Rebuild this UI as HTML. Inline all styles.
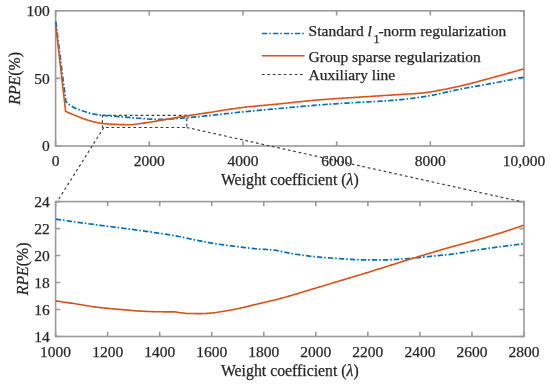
<!DOCTYPE html>
<html><head><meta charset="utf-8"><title>RPE vs weight coefficient</title>
<style>html,body{margin:0;padding:0;background:#fff;}svg{display:block;}</style>
</head><body>
<svg width="550" height="384" viewBox="0 0 550 384">
<rect width="550" height="384" fill="#fff"/>
<g fill="none" stroke="#9a9a9a" stroke-width="1.6">
<rect x="55.6" y="10.8" width="468.40" height="135.20"/>
<rect x="55.6" y="201.6" width="468.40" height="134.90"/>
<path d="M55.60 146.00 V141.30 M55.60 10.80 V15.50 M149.28 146.00 V141.30 M149.28 10.80 V15.50 M242.96 146.00 V141.30 M242.96 10.80 V15.50 M336.64 146.00 V141.30 M336.64 10.80 V15.50 M430.32 146.00 V141.30 M430.32 10.80 V15.50 M524.00 146.00 V141.30 M524.00 10.80 V15.50 M55.60 146.00 H60.30 M524.00 146.00 H519.30 M55.60 78.40 H60.30 M524.00 78.40 H519.30 M55.60 10.80 H60.30 M524.00 10.80 H519.30 M55.60 336.50 V331.80 M55.60 201.60 V206.30 M107.64 336.50 V331.80 M107.64 201.60 V206.30 M159.69 336.50 V331.80 M159.69 201.60 V206.30 M211.73 336.50 V331.80 M211.73 201.60 V206.30 M263.78 336.50 V331.80 M263.78 201.60 V206.30 M315.82 336.50 V331.80 M315.82 201.60 V206.30 M367.87 336.50 V331.80 M367.87 201.60 V206.30 M419.91 336.50 V331.80 M419.91 201.60 V206.30 M471.96 336.50 V331.80 M471.96 201.60 V206.30 M524.00 336.50 V331.80 M524.00 201.60 V206.30 M55.60 336.50 H60.30 M524.00 336.50 H519.30 M55.60 309.52 H60.30 M524.00 309.52 H519.30 M55.60 282.54 H60.30 M524.00 282.54 H519.30 M55.60 255.56 H60.30 M524.00 255.56 H519.30 M55.60 228.58 H60.30 M524.00 228.58 H519.30 M55.60 201.60 H60.30 M524.00 201.60 H519.30 "/>
</g>
<g fill="none" stroke-linejoin="round">
<g stroke="#3a3a3a" stroke-width="1.15" stroke-dasharray="2.75 2.7">
<rect x="102.44" y="115.4" width="84.31" height="12.10"/>
<path d="M103.8 127.5 L57.3 201.4 M186.75 127.5 L521 201.6"/>
</g>
<path d="M55.80 21.70 L65.80 101.40 L67.30 102.92 L68.80 104.28 L70.30 105.40 L71.80 106.35 L73.30 107.19 L74.80 107.93 L76.30 108.61 L77.80 109.23 L79.30 109.80 L80.80 110.32 L82.30 110.81 L83.80 111.30 L85.30 111.80 L86.80 112.30 L88.30 112.77 L89.80 113.19 L91.30 113.54 L92.80 113.84 L94.30 114.13 L95.80 114.38 L97.30 114.62 L98.80 114.84 L100.30 115.04 L101.80 115.21 L103.30 115.37 L104.80 115.50 L106.30 115.62 L107.80 115.73 L109.30 115.85 L110.80 115.97 L112.30 116.08 L113.80 116.19 L115.30 116.30 L116.80 116.42 L118.30 116.53 L119.80 116.65 L121.30 116.76 L122.80 116.89 L124.30 117.02 L125.80 117.15 L127.30 117.31 L128.80 117.46 L130.30 117.62 L131.80 117.78 L133.30 117.92 L134.80 118.04 L136.30 118.14 L137.80 118.23 L139.30 118.32 L140.80 118.40 L142.30 118.49 L143.80 118.60 L145.30 118.73 L146.80 118.87 L148.30 119.00 L149.80 119.11 L151.30 119.18 L152.80 119.22 L154.30 119.27 L155.80 119.31 L157.30 119.34 L158.80 119.36 L160.30 119.38 L161.80 119.38 L163.30 119.37 L164.80 119.32 L166.30 119.25 L167.80 119.17 L169.30 119.08 L170.80 118.99 L172.30 118.91 L173.80 118.81 L175.30 118.71 L176.80 118.61 L178.30 118.49 L179.80 118.37 L181.30 118.25 L182.80 118.12 L184.30 117.99 L185.80 117.86 L187.30 117.73 L188.80 117.60 L190.30 117.46 L191.80 117.32 L193.30 117.18 L194.80 117.04 L196.30 116.89 L197.80 116.74 L199.30 116.59 L200.80 116.43 L202.30 116.28 L203.80 116.12 L205.30 115.96 L206.80 115.80 L208.30 115.63 L209.80 115.47 L211.30 115.31 L212.80 115.14 L214.30 114.97 L215.80 114.81 L217.30 114.64 L218.80 114.47 L220.30 114.31 L221.80 114.14 L223.30 113.97 L224.80 113.81 L226.30 113.64 L227.80 113.48 L229.30 113.32 L230.80 113.15 L232.30 112.99 L233.80 112.84 L235.30 112.68 L236.80 112.52 L238.30 112.37 L239.80 112.22 L241.30 112.07 L242.80 111.92 L244.30 111.77 L245.80 111.63 L247.30 111.48 L248.80 111.33 L250.30 111.19 L251.80 111.04 L253.30 110.90 L254.80 110.75 L256.30 110.61 L257.80 110.47 L259.30 110.32 L260.80 110.18 L262.30 110.04 L263.80 109.90 L265.30 109.76 L266.80 109.62 L268.30 109.48 L269.80 109.34 L271.30 109.20 L272.80 109.06 L274.30 108.92 L275.80 108.78 L277.30 108.65 L278.80 108.51 L280.30 108.37 L281.80 108.24 L283.30 108.10 L284.80 107.96 L286.30 107.82 L287.80 107.68 L289.30 107.55 L290.80 107.41 L292.30 107.27 L293.80 107.13 L295.30 106.99 L296.80 106.86 L298.30 106.72 L299.80 106.59 L301.30 106.45 L302.80 106.32 L304.30 106.19 L305.80 106.06 L307.30 105.93 L308.80 105.80 L310.30 105.67 L311.80 105.55 L313.30 105.42 L314.80 105.30 L316.30 105.18 L317.80 105.07 L319.30 104.95 L320.80 104.84 L322.30 104.73 L323.80 104.62 L325.30 104.51 L326.80 104.41 L328.30 104.30 L329.80 104.20 L331.30 104.10 L332.80 104.00 L334.30 103.90 L335.80 103.80 L337.30 103.70 L338.80 103.60 L340.30 103.51 L341.80 103.41 L343.30 103.32 L344.80 103.22 L346.30 103.13 L347.80 103.04 L349.30 102.95 L350.80 102.85 L352.30 102.76 L353.80 102.67 L355.30 102.58 L356.80 102.49 L358.30 102.41 L359.80 102.32 L361.30 102.24 L362.80 102.16 L364.30 102.08 L365.80 102.00 L367.30 101.92 L368.80 101.84 L370.30 101.76 L371.80 101.68 L373.30 101.60 L374.80 101.52 L376.30 101.43 L377.80 101.34 L379.30 101.24 L380.80 101.15 L382.30 101.05 L383.80 100.95 L385.30 100.85 L386.80 100.75 L388.30 100.64 L389.80 100.54 L391.30 100.42 L392.80 100.31 L394.30 100.19 L395.80 100.07 L397.30 99.94 L398.80 99.81 L400.30 99.67 L401.80 99.53 L403.30 99.37 L404.80 99.21 L406.30 99.04 L407.80 98.87 L409.30 98.69 L410.80 98.50 L412.30 98.31 L413.80 98.11 L415.30 97.91 L416.80 97.71 L418.30 97.50 L419.80 97.29 L421.30 97.07 L422.80 96.84 L424.30 96.61 L425.80 96.37 L427.30 96.12 L428.80 95.87 L430.30 95.60 L431.80 95.33 L433.30 95.06 L434.80 94.77 L436.30 94.46 L437.80 94.15 L439.30 93.82 L440.80 93.48 L442.30 93.14 L443.80 92.79 L445.30 92.45 L446.80 92.11 L448.30 91.78 L449.80 91.44 L451.30 91.11 L452.80 90.77 L454.30 90.43 L455.80 90.09 L457.30 89.77 L458.80 89.45 L460.30 89.14 L461.80 88.84 L463.30 88.55 L464.80 88.26 L466.30 87.98 L467.80 87.70 L469.30 87.42 L470.80 87.15 L472.30 86.88 L473.80 86.62 L475.30 86.35 L476.80 86.09 L478.30 85.83 L479.80 85.56 L481.30 85.30 L482.80 85.04 L484.30 84.77 L485.80 84.50 L487.30 84.23 L488.80 83.96 L490.30 83.68 L491.80 83.40 L493.30 83.12 L494.80 82.83 L496.30 82.54 L497.80 82.26 L499.30 81.97 L500.80 81.68 L502.30 81.39 L503.80 81.10 L505.30 80.81 L506.80 80.51 L508.30 80.22 L509.80 79.92 L511.30 79.63 L512.80 79.33 L514.30 79.03 L515.80 78.73 L517.30 78.43 L518.80 78.13 L520.30 77.83 L521.80 77.53 L523.30 77.22 L523.90 77.10" stroke="#0072BD" stroke-width="1.7" stroke-dasharray="5.4 1.9 1.6 2.1"/>
<path d="M55.80 25.60 L65.60 111.30 L67.10 111.99 L68.60 112.67 L70.10 113.34 L71.60 113.99 L73.10 114.62 L74.60 115.24 L76.10 115.84 L77.60 116.43 L79.10 117.01 L80.60 117.57 L82.10 118.13 L83.60 118.66 L85.10 119.17 L86.60 119.67 L88.10 120.15 L89.60 120.62 L91.10 121.07 L92.60 121.50 L94.10 121.89 L95.60 122.23 L97.10 122.56 L98.60 122.87 L100.10 123.14 L101.60 123.37 L103.10 123.55 L104.60 123.69 L106.10 123.80 L107.60 123.91 L109.10 124.03 L110.60 124.14 L112.10 124.24 L113.60 124.34 L115.10 124.42 L116.60 124.49 L118.10 124.54 L119.60 124.58 L121.10 124.61 L122.60 124.64 L124.10 124.66 L125.60 124.68 L127.10 124.70 L128.60 124.72 L130.10 124.73 L131.60 124.69 L133.10 124.58 L134.60 124.40 L136.10 124.19 L137.60 123.97 L139.10 123.77 L140.60 123.57 L142.10 123.36 L143.60 123.13 L145.10 122.89 L146.60 122.66 L148.10 122.42 L149.60 122.18 L151.10 121.93 L152.60 121.68 L154.10 121.42 L155.60 121.17 L157.10 120.91 L158.60 120.65 L160.10 120.38 L161.60 120.12 L163.10 119.86 L164.60 119.60 L166.10 119.35 L167.60 119.10 L169.10 118.84 L170.60 118.59 L172.10 118.34 L173.60 118.09 L175.10 117.84 L176.60 117.59 L178.10 117.34 L179.60 117.09 L181.10 116.84 L182.60 116.59 L184.10 116.35 L185.60 116.11 L187.10 115.87 L188.60 115.63 L190.10 115.40 L191.60 115.16 L193.10 114.93 L194.60 114.70 L196.10 114.47 L197.60 114.24 L199.10 114.01 L200.60 113.78 L202.10 113.55 L203.60 113.33 L205.10 113.10 L206.60 112.87 L208.10 112.65 L209.60 112.42 L211.10 112.19 L212.60 111.97 L214.10 111.74 L215.60 111.51 L217.10 111.28 L218.60 111.04 L220.10 110.80 L221.60 110.56 L223.10 110.31 L224.60 110.07 L226.10 109.83 L227.60 109.59 L229.10 109.35 L230.60 109.12 L232.10 108.89 L233.60 108.67 L235.10 108.45 L236.60 108.24 L238.10 108.04 L239.60 107.85 L241.10 107.67 L242.60 107.49 L244.10 107.32 L245.60 107.15 L247.10 106.98 L248.60 106.82 L250.10 106.66 L251.60 106.51 L253.10 106.36 L254.60 106.21 L256.10 106.06 L257.60 105.92 L259.10 105.77 L260.60 105.63 L262.10 105.49 L263.60 105.35 L265.10 105.21 L266.60 105.07 L268.10 104.93 L269.60 104.79 L271.10 104.66 L272.60 104.51 L274.10 104.37 L275.60 104.23 L277.10 104.09 L278.60 103.94 L280.10 103.79 L281.60 103.64 L283.10 103.49 L284.60 103.33 L286.10 103.18 L287.60 103.02 L289.10 102.86 L290.60 102.70 L292.10 102.54 L293.60 102.38 L295.10 102.22 L296.60 102.06 L298.10 101.90 L299.60 101.75 L301.10 101.59 L302.60 101.43 L304.10 101.28 L305.60 101.13 L307.10 100.98 L308.60 100.83 L310.10 100.68 L311.60 100.54 L313.10 100.40 L314.60 100.26 L316.10 100.13 L317.60 100.00 L319.10 99.87 L320.60 99.75 L322.10 99.63 L323.60 99.52 L325.10 99.40 L326.60 99.29 L328.10 99.18 L329.60 99.07 L331.10 98.97 L332.60 98.86 L334.10 98.76 L335.60 98.66 L337.10 98.56 L338.60 98.46 L340.10 98.36 L341.60 98.27 L343.10 98.17 L344.60 98.07 L346.10 97.98 L347.60 97.88 L349.10 97.78 L350.60 97.69 L352.10 97.59 L353.60 97.49 L355.10 97.39 L356.60 97.29 L358.10 97.20 L359.60 97.10 L361.10 97.00 L362.60 96.91 L364.10 96.81 L365.60 96.72 L367.10 96.62 L368.60 96.53 L370.10 96.43 L371.60 96.34 L373.10 96.24 L374.60 96.15 L376.10 96.05 L377.60 95.95 L379.10 95.86 L380.60 95.76 L382.10 95.66 L383.60 95.57 L385.10 95.47 L386.60 95.37 L388.10 95.27 L389.60 95.18 L391.10 95.08 L392.60 94.98 L394.10 94.88 L395.60 94.78 L397.10 94.69 L398.60 94.59 L400.10 94.49 L401.60 94.40 L403.10 94.31 L404.60 94.22 L406.10 94.14 L407.60 94.05 L409.10 93.97 L410.60 93.88 L412.10 93.79 L413.60 93.70 L415.10 93.60 L416.60 93.49 L418.10 93.37 L419.60 93.25 L421.10 93.11 L422.60 92.95 L424.10 92.77 L425.60 92.59 L427.10 92.39 L428.60 92.17 L430.10 91.94 L431.60 91.70 L433.10 91.45 L434.60 91.19 L436.10 90.93 L437.60 90.65 L439.10 90.37 L440.60 90.08 L442.10 89.79 L443.60 89.50 L445.10 89.21 L446.60 88.91 L448.10 88.62 L449.60 88.33 L451.10 88.02 L452.60 87.72 L454.10 87.40 L455.60 87.08 L457.10 86.75 L458.60 86.42 L460.10 86.08 L461.60 85.73 L463.10 85.37 L464.60 85.01 L466.10 84.64 L467.60 84.26 L469.10 83.88 L470.60 83.50 L472.10 83.11 L473.60 82.72 L475.10 82.32 L476.60 81.92 L478.10 81.52 L479.60 81.12 L481.10 80.71 L482.60 80.30 L484.10 79.89 L485.60 79.49 L487.10 79.08 L488.60 78.67 L490.10 78.26 L491.60 77.85 L493.10 77.45 L494.60 77.04 L496.10 76.63 L497.60 76.22 L499.10 75.81 L500.60 75.40 L502.10 74.98 L503.60 74.57 L505.10 74.15 L506.60 73.73 L508.10 73.31 L509.60 72.89 L511.10 72.46 L512.60 72.04 L514.10 71.61 L515.60 71.19 L517.10 70.76 L518.60 70.33 L520.10 69.90 L521.60 69.47 L523.10 69.03 L523.90 68.80" stroke="#D95319" stroke-width="1.6"/>
<path d="M55.80 219.20 L57.30 219.42 L58.80 219.64 L60.30 219.85 L61.80 220.07 L63.30 220.28 L64.80 220.50 L66.30 220.71 L67.80 220.92 L69.30 221.13 L70.80 221.34 L72.30 221.55 L73.80 221.76 L75.30 221.97 L76.80 222.18 L78.30 222.39 L79.80 222.59 L81.30 222.80 L82.80 223.00 L84.30 223.21 L85.80 223.41 L87.30 223.61 L88.80 223.81 L90.30 224.01 L91.80 224.20 L93.30 224.40 L94.80 224.59 L96.30 224.79 L97.80 224.98 L99.30 225.17 L100.80 225.37 L102.30 225.56 L103.80 225.75 L105.30 225.94 L106.80 226.14 L108.30 226.33 L109.80 226.52 L111.30 226.72 L112.80 226.91 L114.30 227.11 L115.80 227.31 L117.30 227.50 L118.80 227.70 L120.30 227.89 L121.80 228.09 L123.30 228.28 L124.80 228.48 L126.30 228.67 L127.80 228.87 L129.30 229.07 L130.80 229.26 L132.30 229.46 L133.80 229.66 L135.30 229.86 L136.80 230.06 L138.30 230.27 L139.80 230.47 L141.30 230.68 L142.80 230.89 L144.30 231.10 L145.80 231.31 L147.30 231.53 L148.80 231.74 L150.30 231.96 L151.80 232.17 L153.30 232.39 L154.80 232.60 L156.30 232.82 L157.80 233.04 L159.30 233.26 L160.80 233.49 L162.30 233.71 L163.80 233.94 L165.30 234.17 L166.80 234.41 L168.30 234.65 L169.80 234.90 L171.30 235.15 L172.80 235.40 L174.30 235.66 L175.80 235.93 L177.30 236.20 L178.80 236.49 L180.30 236.79 L181.80 237.11 L183.30 237.44 L184.80 237.77 L186.30 238.11 L187.80 238.45 L189.30 238.78 L190.80 239.10 L192.30 239.40 L193.80 239.70 L195.30 240.00 L196.80 240.30 L198.30 240.60 L199.80 240.90 L201.30 241.19 L202.80 241.48 L204.30 241.77 L205.80 242.05 L207.30 242.33 L208.80 242.59 L210.30 242.86 L211.80 243.11 L213.30 243.35 L214.80 243.59 L216.30 243.82 L217.80 244.04 L219.30 244.26 L220.80 244.47 L222.30 244.68 L223.80 244.89 L225.30 245.09 L226.80 245.29 L228.30 245.48 L229.80 245.68 L231.30 245.87 L232.80 246.06 L234.30 246.25 L235.80 246.44 L237.30 246.63 L238.80 246.82 L240.30 247.01 L241.80 247.21 L243.30 247.40 L244.80 247.58 L246.30 247.77 L247.80 247.94 L249.30 248.12 L250.80 248.28 L252.30 248.44 L253.80 248.59 L255.30 248.73 L256.80 248.85 L258.30 248.96 L259.80 249.06 L261.30 249.15 L262.80 249.24 L264.30 249.33 L265.80 249.42 L267.30 249.51 L268.80 249.62 L270.30 249.73 L271.80 249.86 L273.30 250.01 L274.80 250.19 L276.30 250.44 L277.80 250.74 L279.30 251.06 L280.80 251.36 L282.30 251.65 L283.80 251.96 L285.30 252.27 L286.80 252.57 L288.30 252.88 L289.80 253.18 L291.30 253.46 L292.80 253.73 L294.30 253.99 L295.80 254.23 L297.30 254.48 L298.80 254.71 L300.30 254.94 L301.80 255.16 L303.30 255.37 L304.80 255.56 L306.30 255.75 L307.80 255.93 L309.30 256.10 L310.80 256.26 L312.30 256.42 L313.80 256.58 L315.30 256.73 L316.80 256.87 L318.30 257.02 L319.80 257.15 L321.30 257.29 L322.80 257.42 L324.30 257.54 L325.80 257.67 L327.30 257.79 L328.80 257.91 L330.30 258.02 L331.80 258.14 L333.30 258.25 L334.80 258.35 L336.30 258.46 L337.80 258.56 L339.30 258.66 L340.80 258.75 L342.30 258.85 L343.80 258.93 L345.30 259.02 L346.80 259.10 L348.30 259.19 L349.80 259.29 L351.30 259.38 L352.80 259.47 L354.30 259.55 L355.80 259.63 L357.30 259.69 L358.80 259.74 L360.30 259.78 L361.80 259.80 L363.30 259.80 L364.80 259.80 L366.30 259.80 L367.80 259.80 L369.30 259.80 L370.80 259.80 L372.30 259.80 L373.80 259.80 L375.30 259.80 L376.80 259.80 L378.30 259.80 L379.80 259.80 L381.30 259.80 L382.80 259.80 L384.30 259.80 L385.80 259.80 L387.30 259.78 L388.80 259.74 L390.30 259.70 L391.80 259.63 L393.30 259.56 L394.80 259.48 L396.30 259.39 L397.80 259.29 L399.30 259.19 L400.80 259.09 L402.30 258.98 L403.80 258.88 L405.30 258.78 L406.80 258.67 L408.30 258.54 L409.80 258.40 L411.30 258.26 L412.80 258.11 L414.30 257.97 L415.80 257.83 L417.30 257.69 L418.80 257.54 L420.30 257.39 L421.80 257.25 L423.30 257.10 L424.80 256.94 L426.30 256.79 L427.80 256.64 L429.30 256.49 L430.80 256.33 L432.30 256.18 L433.80 256.03 L435.30 255.87 L436.80 255.72 L438.30 255.57 L439.80 255.42 L441.30 255.27 L442.80 255.13 L444.30 254.99 L445.80 254.85 L447.30 254.70 L448.80 254.54 L450.30 254.36 L451.80 254.18 L453.30 253.97 L454.80 253.76 L456.30 253.54 L457.80 253.30 L459.30 253.06 L460.80 252.81 L462.30 252.55 L463.80 252.29 L465.30 252.03 L466.80 251.76 L468.30 251.50 L469.80 251.23 L471.30 250.97 L472.80 250.70 L474.30 250.45 L475.80 250.20 L477.30 249.95 L478.80 249.72 L480.30 249.49 L481.80 249.27 L483.30 249.05 L484.80 248.84 L486.30 248.62 L487.80 248.41 L489.30 248.20 L490.80 247.99 L492.30 247.78 L493.80 247.58 L495.30 247.37 L496.80 247.17 L498.30 246.96 L499.80 246.76 L501.30 246.57 L502.80 246.37 L504.30 246.17 L505.80 245.98 L507.30 245.79 L508.80 245.60 L510.30 245.41 L511.80 245.22 L513.30 245.04 L514.80 244.86 L516.30 244.68 L517.80 244.50 L519.30 244.33 L520.80 244.15 L522.30 243.98 L523.90 243.80" stroke="#0072BD" stroke-width="1.7" stroke-dasharray="5.4 1.9 1.6 2.1"/>
<path d="M55.80 300.90 L57.30 301.12 L58.80 301.33 L60.30 301.55 L61.80 301.77 L63.30 301.99 L64.80 302.21 L66.30 302.43 L67.80 302.65 L69.30 302.87 L70.80 303.10 L72.30 303.32 L73.80 303.55 L75.30 303.77 L76.80 304.00 L78.30 304.23 L79.80 304.47 L81.30 304.72 L82.80 304.97 L84.30 305.22 L85.80 305.47 L87.30 305.72 L88.80 305.97 L90.30 306.22 L91.80 306.45 L93.30 306.68 L94.80 306.90 L96.30 307.11 L97.80 307.30 L99.30 307.48 L100.80 307.65 L102.30 307.82 L103.80 307.98 L105.30 308.13 L106.80 308.28 L108.30 308.42 L109.80 308.56 L111.30 308.70 L112.80 308.83 L114.30 308.96 L115.80 309.09 L117.30 309.22 L118.80 309.35 L120.30 309.48 L121.80 309.61 L123.30 309.75 L124.80 309.88 L126.30 310.02 L127.80 310.15 L129.30 310.29 L130.80 310.42 L132.30 310.55 L133.80 310.67 L135.30 310.79 L136.80 310.89 L138.30 310.99 L139.80 311.09 L141.30 311.17 L142.80 311.24 L144.30 311.31 L145.80 311.37 L147.30 311.44 L148.80 311.50 L150.30 311.55 L151.80 311.61 L153.30 311.66 L154.80 311.70 L156.30 311.74 L157.80 311.77 L159.30 311.79 L160.80 311.81 L162.30 311.82 L163.80 311.83 L165.30 311.83 L166.80 311.84 L168.30 311.85 L169.80 311.85 L171.30 311.86 L172.80 311.88 L174.30 311.90 L175.80 312.00 L177.30 312.25 L178.80 312.49 L180.30 312.67 L181.80 312.86 L183.30 313.05 L184.80 313.22 L186.30 313.36 L187.80 313.46 L189.30 313.50 L190.80 313.53 L192.30 313.55 L193.80 313.56 L195.30 313.58 L196.80 313.59 L198.30 313.60 L199.80 313.60 L201.30 313.60 L202.80 313.57 L204.30 313.52 L205.80 313.44 L207.30 313.35 L208.80 313.25 L210.30 313.14 L211.80 313.03 L213.30 312.88 L214.80 312.69 L216.30 312.48 L217.80 312.26 L219.30 312.02 L220.80 311.77 L222.30 311.53 L223.80 311.29 L225.30 311.04 L226.80 310.78 L228.30 310.52 L229.80 310.24 L231.30 309.96 L232.80 309.67 L234.30 309.37 L235.80 309.07 L237.30 308.76 L238.80 308.45 L240.30 308.14 L241.80 307.81 L243.30 307.47 L244.80 307.12 L246.30 306.76 L247.80 306.39 L249.30 306.02 L250.80 305.65 L252.30 305.27 L253.80 304.90 L255.30 304.53 L256.80 304.17 L258.30 303.81 L259.80 303.46 L261.30 303.12 L262.80 302.77 L264.30 302.43 L265.80 302.09 L267.30 301.74 L268.80 301.40 L270.30 301.05 L271.80 300.69 L273.30 300.32 L274.80 299.95 L276.30 299.57 L277.80 299.18 L279.30 298.78 L280.80 298.38 L282.30 297.98 L283.80 297.57 L285.30 297.15 L286.80 296.73 L288.30 296.30 L289.80 295.88 L291.30 295.45 L292.80 295.02 L294.30 294.58 L295.80 294.14 L297.30 293.69 L298.80 293.23 L300.30 292.77 L301.80 292.31 L303.30 291.85 L304.80 291.38 L306.30 290.93 L307.80 290.47 L309.30 290.02 L310.80 289.56 L312.30 289.11 L313.80 288.66 L315.30 288.21 L316.80 287.76 L318.30 287.31 L319.80 286.86 L321.30 286.41 L322.80 285.96 L324.30 285.51 L325.80 285.06 L327.30 284.61 L328.80 284.16 L330.30 283.71 L331.80 283.26 L333.30 282.81 L334.80 282.36 L336.30 281.91 L337.80 281.46 L339.30 281.01 L340.80 280.56 L342.30 280.11 L343.80 279.66 L345.30 279.21 L346.80 278.77 L348.30 278.32 L349.80 277.87 L351.30 277.42 L352.80 276.97 L354.30 276.52 L355.80 276.07 L357.30 275.62 L358.80 275.16 L360.30 274.71 L361.80 274.25 L363.30 273.79 L364.80 273.33 L366.30 272.87 L367.80 272.40 L369.30 271.94 L370.80 271.47 L372.30 271.00 L373.80 270.54 L375.30 270.07 L376.80 269.60 L378.30 269.13 L379.80 268.66 L381.30 268.19 L382.80 267.71 L384.30 267.24 L385.80 266.77 L387.30 266.30 L388.80 265.83 L390.30 265.35 L391.80 264.88 L393.30 264.41 L394.80 263.94 L396.30 263.47 L397.80 263.00 L399.30 262.53 L400.80 262.07 L402.30 261.60 L403.80 261.13 L405.30 260.67 L406.80 260.20 L408.30 259.74 L409.80 259.28 L411.30 258.82 L412.80 258.36 L414.30 257.91 L415.80 257.45 L417.30 257.00 L418.80 256.54 L420.30 256.09 L421.80 255.63 L423.30 255.18 L424.80 254.73 L426.30 254.27 L427.80 253.82 L429.30 253.37 L430.80 252.92 L432.30 252.47 L433.80 252.02 L435.30 251.58 L436.80 251.13 L438.30 250.69 L439.80 250.25 L441.30 249.81 L442.80 249.37 L444.30 248.93 L445.80 248.50 L447.30 248.07 L448.80 247.64 L450.30 247.22 L451.80 246.79 L453.30 246.38 L454.80 245.97 L456.30 245.56 L457.80 245.16 L459.30 244.76 L460.80 244.36 L462.30 243.97 L463.80 243.57 L465.30 243.17 L466.80 242.78 L468.30 242.37 L469.80 241.97 L471.30 241.56 L472.80 241.15 L474.30 240.74 L475.80 240.32 L477.30 239.89 L478.80 239.45 L480.30 239.02 L481.80 238.58 L483.30 238.14 L484.80 237.69 L486.30 237.25 L487.80 236.80 L489.30 236.35 L490.80 235.90 L492.30 235.44 L493.80 234.99 L495.30 234.53 L496.80 234.07 L498.30 233.60 L499.80 233.14 L501.30 232.67 L502.80 232.20 L504.30 231.72 L505.80 231.25 L507.30 230.77 L508.80 230.29 L510.30 229.80 L511.80 229.32 L513.30 228.83 L514.80 228.34 L516.30 227.84 L517.80 227.35 L519.30 226.85 L520.80 226.35 L522.30 225.84 L523.90 225.30" stroke="#D95319" stroke-width="1.6"/>
</g>
<g fill="none">
<path d="M261.9 33.5 H304.6" stroke="#0072BD" stroke-width="1.7" stroke-dasharray="5.4 1.9 1.6 2.1"/>
<path d="M261.9 55.8 H304.6" stroke="#D95319" stroke-width="1.6"/>
<path d="M261.9 74.5 H304.6" stroke="#3a3a3a" stroke-width="1.15" stroke-dasharray="2.75 2.7"/>
</g>
<g font-family="&quot;Liberation Serif&quot;, serif" fill="#262626" font-size="15.5" stroke="#262626" stroke-width="0.25">
<text x="55.60" y="166.2" text-anchor="middle">0</text>
<text x="149.28" y="166.2" text-anchor="middle">2000</text>
<text x="242.96" y="166.2" text-anchor="middle">4000</text>
<text x="336.64" y="166.2" text-anchor="middle">6000</text>
<text x="430.32" y="166.2" text-anchor="middle">8000</text>
<text x="524.00" y="166.2" text-anchor="middle">10,000</text>
<text x="49.8" y="151.10" text-anchor="end">0</text>
<text x="49.8" y="83.50" text-anchor="end">50</text>
<text x="49.8" y="15.90" text-anchor="end">100</text>
<text x="55.60" y="356.8" text-anchor="middle">1000</text>
<text x="107.64" y="356.8" text-anchor="middle">1200</text>
<text x="159.69" y="356.8" text-anchor="middle">1400</text>
<text x="211.73" y="356.8" text-anchor="middle">1600</text>
<text x="263.78" y="356.8" text-anchor="middle">1800</text>
<text x="315.82" y="356.8" text-anchor="middle">2000</text>
<text x="367.87" y="356.8" text-anchor="middle">2200</text>
<text x="419.91" y="356.8" text-anchor="middle">2400</text>
<text x="471.96" y="356.8" text-anchor="middle">2600</text>
<text x="524.00" y="356.8" text-anchor="middle">2800</text>
<text x="49.8" y="341.60" text-anchor="end">14</text>
<text x="49.8" y="314.62" text-anchor="end">16</text>
<text x="49.8" y="287.64" text-anchor="end">18</text>
<text x="49.8" y="260.66" text-anchor="end">20</text>
<text x="49.8" y="233.68" text-anchor="end">22</text>
<text x="49.8" y="206.70" text-anchor="end">24</text>
<text x="289.85" y="185.3" text-anchor="middle" font-size="15.8">Weight coefficient (<tspan font-style="italic">λ</tspan>)</text>
<text x="289.85" y="375.6" text-anchor="middle" font-size="15.8">Weight coefficient (<tspan font-style="italic">λ</tspan>)</text>
<text transform="translate(20.0 78.4) rotate(-90)" text-anchor="middle" font-size="15.8"><tspan font-style="italic">RPE</tspan>(%)</text>
<text transform="translate(28.2 268.9) rotate(-90)" text-anchor="middle" font-size="15.8"><tspan font-style="italic">RPE</tspan>(%)</text>
<g font-size="15.5">
<text x="308.6" y="36.2">Standard <tspan font-style="italic">l</tspan><tspan font-size="12" x="373.4" dy="7">1</tspan><tspan x="378.4" dy="-7">-norm regularization</tspan></text>
<text x="308.6" y="61.9">Group sparse regularization</text>
<text x="308.6" y="79.8">Auxiliary line</text>
</g>
</g>
</svg>
</body></html>
